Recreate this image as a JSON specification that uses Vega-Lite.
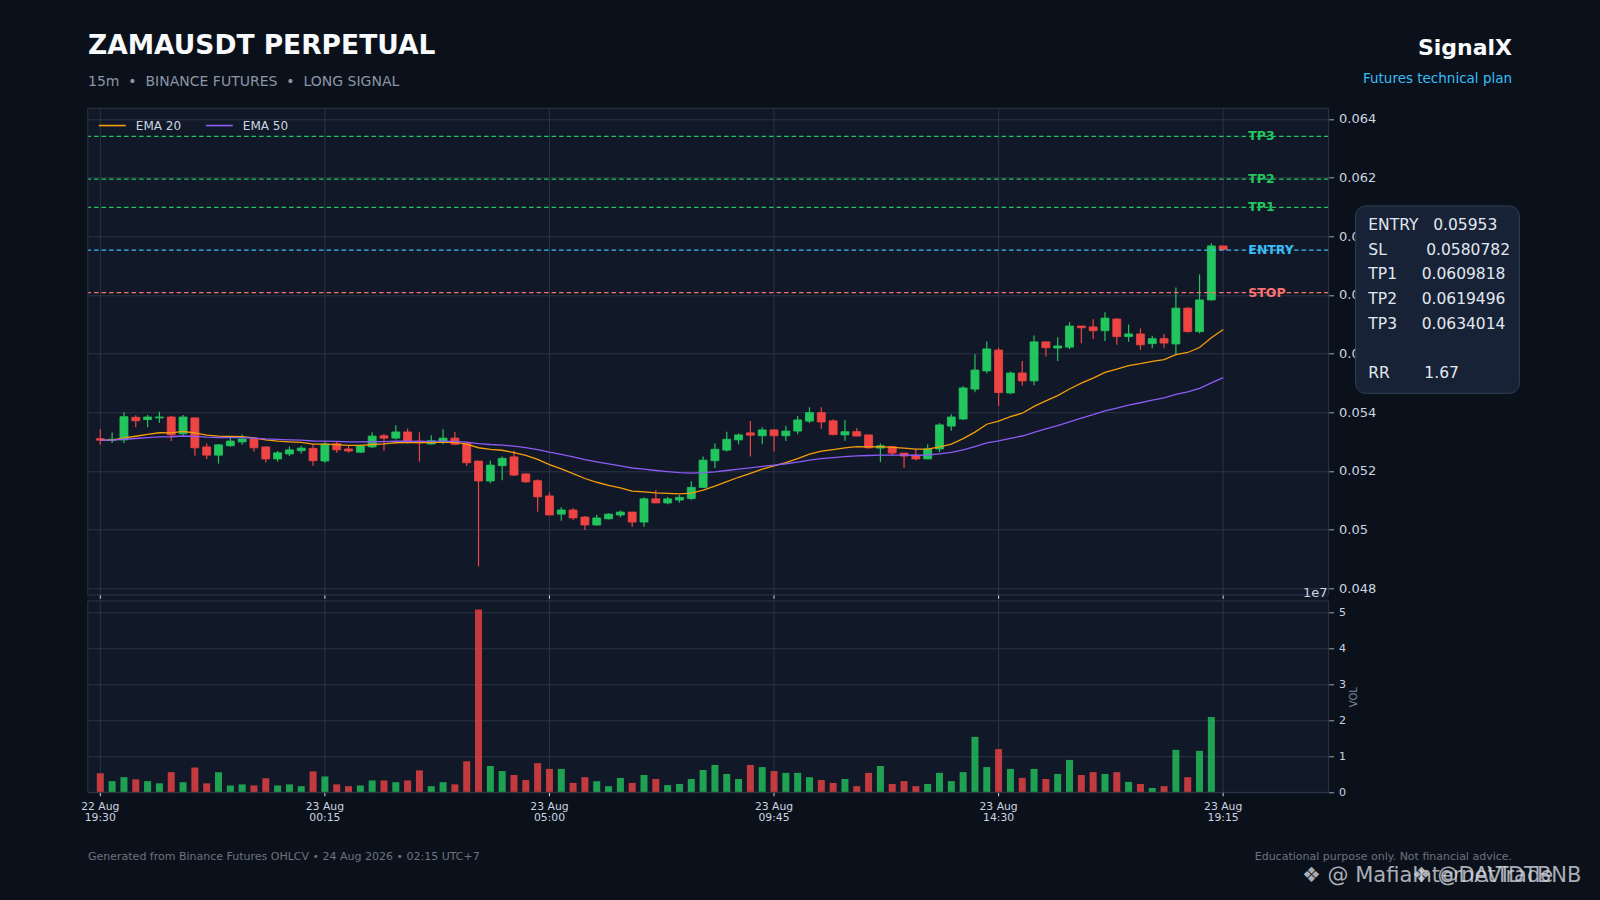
{
  "$schema": "https://vega.github.io/schema/vega-lite/v6.json",
  "width": 1240.8,
  "height": 684,
  "autosize": {"type": "none"},
  "padding": {"left": 87.8, "top": 108.3, "right": 271.4, "bottom": 107.7},
  "background": "#0b111b",
  "config": {
    "font": "DejaVu Sans",
    "view": {"fill": "#111827", "stroke": null}
  },
  "datasets": {
    "candles": [
      {"i":0,"o":0.05310,"h":0.05342,"l":0.05289,"c":0.05305,"v":0.53,"EMA 20":0.053050,"EMA 50":0.053050},
      {"i":1,"o":0.05305,"h":0.05331,"l":0.05295,"c":0.05308,"v":0.31,"EMA 20":0.053053,"EMA 50":0.053051},
      {"i":2,"o":0.05306,"h":0.05400,"l":0.05295,"c":0.05385,"v":0.42,"EMA 20":0.053129,"EMA 50":0.053082},
      {"i":3,"o":0.05383,"h":0.05390,"l":0.05349,"c":0.05371,"v":0.36,"EMA 20":0.053184,"EMA 50":0.053107},
      {"i":4,"o":0.05375,"h":0.05391,"l":0.05349,"c":0.05384,"v":0.31,"EMA 20":0.053247,"EMA 50":0.053136},
      {"i":5,"o":0.05381,"h":0.05402,"l":0.05364,"c":0.05384,"v":0.25,"EMA 20":0.053303,"EMA 50":0.053164},
      {"i":6,"o":0.05384,"h":0.05388,"l":0.05302,"c":0.05323,"v":0.56,"EMA 20":0.053296,"EMA 50":0.053166},
      {"i":7,"o":0.05327,"h":0.05391,"l":0.05321,"c":0.05384,"v":0.28,"EMA 20":0.053348,"EMA 50":0.053192},
      {"i":8,"o":0.05381,"h":0.05381,"l":0.05252,"c":0.05279,"v":0.69,"EMA 20":0.053295,"EMA 50":0.053177},
      {"i":9,"o":0.05282,"h":0.05294,"l":0.05241,"c":0.05254,"v":0.25,"EMA 20":0.053223,"EMA 50":0.053152},
      {"i":10,"o":0.05254,"h":0.05292,"l":0.05225,"c":0.05289,"v":0.56,"EMA 20":0.053191,"EMA 50":0.053141},
      {"i":11,"o":0.05286,"h":0.05313,"l":0.05283,"c":0.05302,"v":0.19,"EMA 20":0.053175,"EMA 50":0.053137},
      {"i":12,"o":0.05299,"h":0.05324,"l":0.05289,"c":0.05309,"v":0.22,"EMA 20":0.053167,"EMA 50":0.053135},
      {"i":13,"o":0.05309,"h":0.05309,"l":0.05266,"c":0.05279,"v":0.19,"EMA 20":0.053131,"EMA 50":0.053121},
      {"i":14,"o":0.05282,"h":0.05284,"l":0.05229,"c":0.05241,"v":0.39,"EMA 20":0.053062,"EMA 50":0.053093},
      {"i":15,"o":0.05241,"h":0.05268,"l":0.05232,"c":0.05262,"v":0.19,"EMA 20":0.053020,"EMA 50":0.053075},
      {"i":16,"o":0.05258,"h":0.05283,"l":0.05251,"c":0.05272,"v":0.22,"EMA 20":0.052992,"EMA 50":0.053061},
      {"i":17,"o":0.05269,"h":0.05285,"l":0.05260,"c":0.05278,"v":0.17,"EMA 20":0.052972,"EMA 50":0.053050},
      {"i":18,"o":0.05277,"h":0.05289,"l":0.05218,"c":0.05235,"v":0.58,"EMA 20":0.052912,"EMA 50":0.053022},
      {"i":19,"o":0.05234,"h":0.05300,"l":0.05228,"c":0.05292,"v":0.44,"EMA 20":0.052913,"EMA 50":0.053018},
      {"i":20,"o":0.05293,"h":0.05300,"l":0.05262,"c":0.05272,"v":0.22,"EMA 20":0.052895,"EMA 50":0.053007},
      {"i":21,"o":0.05275,"h":0.05285,"l":0.05262,"c":0.05268,"v":0.17,"EMA 20":0.052874,"EMA 50":0.052994},
      {"i":22,"o":0.05264,"h":0.05289,"l":0.05261,"c":0.05286,"v":0.19,"EMA 20":0.052873,"EMA 50":0.052989},
      {"i":23,"o":0.05282,"h":0.05332,"l":0.05278,"c":0.05319,"v":0.33,"EMA 20":0.052903,"EMA 50":0.052996},
      {"i":24,"o":0.05320,"h":0.05326,"l":0.05269,"c":0.05312,"v":0.33,"EMA 20":0.052924,"EMA 50":0.053001},
      {"i":25,"o":0.05312,"h":0.05356,"l":0.05307,"c":0.05333,"v":0.28,"EMA 20":0.052962,"EMA 50":0.053014},
      {"i":26,"o":0.05333,"h":0.05345,"l":0.05294,"c":0.05299,"v":0.33,"EMA 20":0.052965,"EMA 50":0.053013},
      {"i":27,"o":0.05302,"h":0.05332,"l":0.05232,"c":0.05296,"v":0.61,"EMA 20":0.052965,"EMA 50":0.053011},
      {"i":28,"o":0.05292,"h":0.05322,"l":0.05290,"c":0.05303,"v":0.17,"EMA 20":0.052971,"EMA 50":0.053012},
      {"i":29,"o":0.05299,"h":0.05342,"l":0.05291,"c":0.05312,"v":0.28,"EMA 20":0.052985,"EMA 50":0.053016},
      {"i":30,"o":0.05312,"h":0.05333,"l":0.05288,"c":0.05291,"v":0.22,"EMA 20":0.052978,"EMA 50":0.053012},
      {"i":31,"o":0.05294,"h":0.05297,"l":0.05217,"c":0.05228,"v":0.86,"EMA 20":0.052912,"EMA 50":0.052983},
      {"i":32,"o":0.05234,"h":0.05234,"l":0.04875,"c":0.05166,"v":5.08,"EMA 20":0.052792,"EMA 50":0.052931},
      {"i":33,"o":0.05166,"h":0.05236,"l":0.05158,"c":0.05220,"v":0.73,"EMA 20":0.052736,"EMA 50":0.052903},
      {"i":34,"o":0.05218,"h":0.05249,"l":0.05168,"c":0.05243,"v":0.59,"EMA 20":0.052707,"EMA 50":0.052884},
      {"i":35,"o":0.05248,"h":0.05269,"l":0.05183,"c":0.05186,"v":0.48,"EMA 20":0.052626,"EMA 50":0.052844},
      {"i":36,"o":0.05190,"h":0.05192,"l":0.05159,"c":0.05163,"v":0.34,"EMA 20":0.052531,"EMA 50":0.052796},
      {"i":37,"o":0.05167,"h":0.05172,"l":0.05061,"c":0.05112,"v":0.81,"EMA 20":0.052397,"EMA 50":0.052731},
      {"i":38,"o":0.05115,"h":0.05127,"l":0.05050,"c":0.05050,"v":0.65,"EMA 20":0.052216,"EMA 50":0.052643},
      {"i":39,"o":0.05053,"h":0.05076,"l":0.05030,"c":0.05067,"v":0.65,"EMA 20":0.052069,"EMA 50":0.052566},
      {"i":40,"o":0.05067,"h":0.05073,"l":0.05033,"c":0.05040,"v":0.26,"EMA 20":0.051910,"EMA 50":0.052481},
      {"i":41,"o":0.05043,"h":0.05047,"l":0.04999,"c":0.05016,"v":0.42,"EMA 20":0.051744,"EMA 50":0.052390},
      {"i":42,"o":0.05016,"h":0.05051,"l":0.05013,"c":0.05040,"v":0.31,"EMA 20":0.051616,"EMA 50":0.052312},
      {"i":43,"o":0.05037,"h":0.05056,"l":0.05035,"c":0.05053,"v":0.17,"EMA 20":0.051512,"EMA 50":0.052242},
      {"i":44,"o":0.05050,"h":0.05065,"l":0.05042,"c":0.05060,"v":0.40,"EMA 20":0.051425,"EMA 50":0.052177},
      {"i":45,"o":0.05060,"h":0.05060,"l":0.05010,"c":0.05026,"v":0.26,"EMA 20":0.051315,"EMA 50":0.052102},
      {"i":46,"o":0.05026,"h":0.05110,"l":0.05010,"c":0.05105,"v":0.48,"EMA 20":0.051289,"EMA 50":0.052061},
      {"i":47,"o":0.05105,"h":0.05135,"l":0.05091,"c":0.05091,"v":0.37,"EMA 20":0.051253,"EMA 50":0.052016},
      {"i":48,"o":0.05091,"h":0.05111,"l":0.05087,"c":0.05105,"v":0.20,"EMA 20":0.051234,"EMA 50":0.051978},
      {"i":49,"o":0.05101,"h":0.05118,"l":0.05092,"c":0.05110,"v":0.23,"EMA 20":0.051221,"EMA 50":0.051943},
      {"i":50,"o":0.05106,"h":0.05165,"l":0.05101,"c":0.05144,"v":0.37,"EMA 20":0.051242,"EMA 50":0.051924},
      {"i":51,"o":0.05144,"h":0.05249,"l":0.05144,"c":0.05237,"v":0.62,"EMA 20":0.051349,"EMA 50":0.051941},
      {"i":52,"o":0.05235,"h":0.05294,"l":0.05210,"c":0.05274,"v":0.76,"EMA 20":0.051482,"EMA 50":0.051973},
      {"i":53,"o":0.05271,"h":0.05334,"l":0.05266,"c":0.05308,"v":0.51,"EMA 20":0.051634,"EMA 50":0.052016},
      {"i":54,"o":0.05306,"h":0.05328,"l":0.05291,"c":0.05323,"v":0.37,"EMA 20":0.051786,"EMA 50":0.052064},
      {"i":55,"o":0.05330,"h":0.05370,"l":0.05249,"c":0.05322,"v":0.76,"EMA 20":0.051922,"EMA 50":0.052109},
      {"i":56,"o":0.05320,"h":0.05349,"l":0.05291,"c":0.05340,"v":0.70,"EMA 20":0.052063,"EMA 50":0.052160},
      {"i":57,"o":0.05340,"h":0.05342,"l":0.05266,"c":0.05320,"v":0.59,"EMA 20":0.052171,"EMA 50":0.052200},
      {"i":58,"o":0.05320,"h":0.05354,"l":0.05302,"c":0.05336,"v":0.54,"EMA 20":0.052284,"EMA 50":0.052246},
      {"i":59,"o":0.05336,"h":0.05387,"l":0.05325,"c":0.05374,"v":0.54,"EMA 20":0.052423,"EMA 50":0.052304},
      {"i":60,"o":0.05370,"h":0.05417,"l":0.05363,"c":0.05399,"v":0.42,"EMA 20":0.052572,"EMA 50":0.052370},
      {"i":61,"o":0.05399,"h":0.05417,"l":0.05344,"c":0.05367,"v":0.34,"EMA 20":0.052677,"EMA 50":0.052421},
      {"i":62,"o":0.05371,"h":0.05376,"l":0.05322,"c":0.05324,"v":0.26,"EMA 20":0.052730,"EMA 50":0.052453},
      {"i":63,"o":0.05323,"h":0.05373,"l":0.05303,"c":0.05334,"v":0.37,"EMA 20":0.052788,"EMA 50":0.052488},
      {"i":64,"o":0.05334,"h":0.05346,"l":0.05319,"c":0.05319,"v":0.17,"EMA 20":0.052827,"EMA 50":0.052516},
      {"i":65,"o":0.05323,"h":0.05323,"l":0.05276,"c":0.05279,"v":0.54,"EMA 20":0.052823,"EMA 50":0.052527},
      {"i":66,"o":0.05278,"h":0.05294,"l":0.05230,"c":0.05286,"v":0.73,"EMA 20":0.052827,"EMA 50":0.052540},
      {"i":67,"o":0.05283,"h":0.05285,"l":0.05253,"c":0.05261,"v":0.23,"EMA 20":0.052806,"EMA 50":0.052542},
      {"i":68,"o":0.05261,"h":0.05261,"l":0.05211,"c":0.05251,"v":0.31,"EMA 20":0.052778,"EMA 50":0.052541},
      {"i":69,"o":0.05254,"h":0.05275,"l":0.05237,"c":0.05241,"v":0.17,"EMA 20":0.052743,"EMA 50":0.052536},
      {"i":70,"o":0.05241,"h":0.05291,"l":0.05241,"c":0.05275,"v":0.23,"EMA 20":0.052743,"EMA 50":0.052544},
      {"i":71,"o":0.05275,"h":0.05363,"l":0.05264,"c":0.05357,"v":0.54,"EMA 20":0.052822,"EMA 50":0.052585},
      {"i":72,"o":0.05353,"h":0.05393,"l":0.05337,"c":0.05384,"v":0.31,"EMA 20":0.052919,"EMA 50":0.052634},
      {"i":73,"o":0.05377,"h":0.05490,"l":0.05374,"c":0.05483,"v":0.56,"EMA 20":0.053101,"EMA 50":0.052720},
      {"i":74,"o":0.05479,"h":0.05598,"l":0.05468,"c":0.05544,"v":1.54,"EMA 20":0.053323,"EMA 50":0.052827},
      {"i":75,"o":0.05541,"h":0.05641,"l":0.05533,"c":0.05616,"v":0.70,"EMA 20":0.053593,"EMA 50":0.052957},
      {"i":76,"o":0.05612,"h":0.05620,"l":0.05422,"c":0.05467,"v":1.20,"EMA 20":0.053696,"EMA 50":0.053024},
      {"i":77,"o":0.05466,"h":0.05539,"l":0.05462,"c":0.05534,"v":0.65,"EMA 20":0.053852,"EMA 50":0.053115},
      {"i":78,"o":0.05534,"h":0.05575,"l":0.05491,"c":0.05507,"v":0.40,"EMA 20":0.053968,"EMA 50":0.053192},
      {"i":79,"o":0.05507,"h":0.05662,"l":0.05492,"c":0.05640,"v":0.65,"EMA 20":0.054200,"EMA 50":0.053318},
      {"i":80,"o":0.05640,"h":0.05640,"l":0.05590,"c":0.05620,"v":0.37,"EMA 20":0.054390,"EMA 50":0.053431},
      {"i":81,"o":0.05619,"h":0.05656,"l":0.05575,"c":0.05626,"v":0.51,"EMA 20":0.054568,"EMA 50":0.053542},
      {"i":82,"o":0.05622,"h":0.05707,"l":0.05615,"c":0.05694,"v":0.90,"EMA 20":0.054794,"EMA 50":0.053675},
      {"i":83,"o":0.05694,"h":0.05694,"l":0.05635,"c":0.05688,"v":0.48,"EMA 20":0.054993,"EMA 50":0.053801},
      {"i":84,"o":0.05691,"h":0.05717,"l":0.05650,"c":0.05678,"v":0.56,"EMA 20":0.055163,"EMA 50":0.053917},
      {"i":85,"o":0.05678,"h":0.05741,"l":0.05643,"c":0.05721,"v":0.51,"EMA 20":0.055358,"EMA 50":0.054046},
      {"i":86,"o":0.05718,"h":0.05720,"l":0.05630,"c":0.05658,"v":0.56,"EMA 20":0.055474,"EMA 50":0.054146},
      {"i":87,"o":0.05658,"h":0.05699,"l":0.05640,"c":0.05667,"v":0.29,"EMA 20":0.055588,"EMA 50":0.054245},
      {"i":88,"o":0.05667,"h":0.05686,"l":0.05613,"c":0.05630,"v":0.23,"EMA 20":0.055656,"EMA 50":0.054325},
      {"i":89,"o":0.05634,"h":0.05661,"l":0.05618,"c":0.05651,"v":0.12,"EMA 20":0.055737,"EMA 50":0.054411},
      {"i":90,"o":0.05651,"h":0.05667,"l":0.05620,"c":0.05636,"v":0.17,"EMA 20":0.055796,"EMA 50":0.054488},
      {"i":91,"o":0.05633,"h":0.05825,"l":0.05599,"c":0.05755,"v":1.18,"EMA 20":0.055963,"EMA 50":0.054608},
      {"i":92,"o":0.05755,"h":0.05759,"l":0.05671,"c":0.05675,"v":0.42,"EMA 20":0.056038,"EMA 50":0.054692},
      {"i":93,"o":0.05675,"h":0.05870,"l":0.05669,"c":0.05783,"v":1.15,"EMA 20":0.056209,"EMA 50":0.054815},
      {"i":94,"o":0.05783,"h":0.05976,"l":0.05780,"c":0.05967,"v":2.09,"EMA 20":0.056538,"EMA 50":0.055005},
      {"i":95,"o":0.05967,"h":0.05967,"l":0.05954,"c":0.05954,"v":0.00,"EMA 20":0.056824,"EMA 50":0.055183}
    ],
    "levels": [
      {"level": "TP3", "price": 0.0634014},
      {"level": "TP2", "price": 0.0619496},
      {"level": "TP1", "price": 0.0609818},
      {"level": "ENTRY", "price": 0.05953},
      {"level": "STOP", "price": 0.0580782}
    ],
    "info": [
      {"line": "ENTRY\u00a0\u00a0\u00a00.05953", "row": 0},
      {"line": "SL\u00a0\u00a0\u00a0\u00a0\u00a0\u00a0\u00a0\u00a00.0580782", "row": 1},
      {"line": "TP1\u00a0\u00a0\u00a0\u00a0\u00a00.0609818", "row": 2},
      {"line": "TP2\u00a0\u00a0\u00a0\u00a0\u00a00.0619496", "row": 3},
      {"line": "TP3\u00a0\u00a0\u00a0\u00a0\u00a00.0634014", "row": 4},
      {"line": "RR\u00a0\u00a0\u00a0\u00a0\u00a0\u00a0\u00a01.67", "row": 6}
    ],
    "ticks": [
      {"i": 0, "label": ["22 Aug", "19:30"]},
      {"i": 19, "label": ["23 Aug", "00:15"]},
      {"i": 38, "label": ["23 Aug", "05:00"]},
      {"i": 57, "label": ["23 Aug", "09:45"]},
      {"i": 76, "label": ["23 Aug", "14:30"]},
      {"i": 95, "label": ["23 Aug", "19:15"]}
    ]
  },
  "resolve": {"scale": {"y": "independent"}},
  "layer": [
    {
      "data": {"name": "ticks"},
      "mark": {"type": "rule", "strokeWidth": 1, "color": "#2a3546"},
      "encoding": {
        "x": {"field": "i", "type": "quantitative", "scale": {"domain": [-1.058, 103.92], "nice": false, "zero": false, "padding": 0}, "axis": null},
        "y": {"datum": 0.047777, "type": "quantitative", "scale": {"domain": [0.047777, 0.06436], "range": [486.6, 0], "nice": false, "zero": false}, "axis": null},
        "y2": {"datum": 0.06436}
      }
    },
    {
      "data": {"name": "ticks"},
      "mark": {"type": "rule", "strokeWidth": 1, "color": "#cbd5e1"},
      "encoding": {
        "x": {"field": "i", "type": "quantitative", "scale": {"domain": [-1.058, 103.92], "nice": false, "zero": false, "padding": 0}, "axis": null},
        "y": {"datum": 0.047777, "type": "quantitative", "scale": {"domain": [0.047777, 0.06436], "range": [486.6, 0], "nice": false, "zero": false}, "axis": null},
        "y2": {"datum": 0.047641}
      }
    },
    {
      "data": {"name": "ticks"},
      "mark": {"type": "rule", "strokeWidth": 1, "color": "#2a3546"},
      "encoding": {
        "x": {"field": "i", "type": "quantitative", "scale": {"domain": [-1.058, 103.92], "nice": false, "zero": false, "padding": 0}, "axis": null},
        "y": {"datum": 0, "type": "quantitative", "scale": {"domain": [0, 5.314], "range": [684, 492.7], "nice": false, "zero": false}, "axis": null},
        "y2": {"datum": 5.314}
      }
    },
    {
      "data": {"name": "ticks"},
      "mark": {"type": "rule", "strokeWidth": 1, "color": "#cbd5e1"},
      "encoding": {
        "x": {"field": "i", "type": "quantitative", "scale": {"domain": [-1.058, 103.92], "nice": false, "zero": false, "padding": 0}, "axis": null},
        "y": {"datum": 0, "type": "quantitative", "scale": {"domain": [0, 5.314], "range": [684, 492.7], "nice": false, "zero": false}, "axis": null},
        "y2": {"datum": -0.111}
      }
    },
    {
      "data": {"name": "candles"},
      "mark": {"type": "rule", "strokeWidth": 1.2},
      "encoding": {
        "x": {"field": "i", "type": "quantitative", "scale": {"domain": [-1.058, 103.92], "nice": false, "zero": false, "padding": 0}, "axis": null},
        "y": {
          "field": "l", "type": "quantitative",
          "scale": {"domain": [0.047777, 0.06436], "range": [486.6, 0], "nice": false, "zero": false},
          "axis": {
            "orient": "right", "title": null, "values": [0.048, 0.05, 0.052, 0.054, 0.056, 0.058, 0.06, 0.062, 0.064],
            "format": ".3~f", "domain": false, "grid": true, "gridColor": "#2a3546", "tickColor": "#9aa5b4", "tickSize": 5,
            "labelColor": "#cbd5e1", "labelFontSize": 13, "labelPadding": 5
          }
        },
        "y2": {"field": "h"},
        "color": {"condition": {"test": "datum.c >= datum.o", "value": "#22c55e"}, "value": "#ef4444"}
      }
    },
    {
      "data": {"name": "candles"},
      "mark": {"type": "bar", "size": 7, "opacity": 0.8},
      "encoding": {
        "x": {"field": "i", "type": "quantitative", "scale": {"domain": [-1.058, 103.92], "nice": false, "zero": false, "padding": 0}, "axis": null},
        "y": {
          "field": "v", "type": "quantitative",
          "scale": {"domain": [0, 5.314], "range": [684, 492.7], "nice": false, "zero": false},
          "axis": {
            "orient": "right", "title": "VOL", "titleColor": "#7c8797", "titleFontSize": 10, "titleFontWeight": "normal",
            "titleAngle": 270, "titlePadding": 13, "values": [0, 1, 2, 3, 4, 5], "domain": false, "grid": true,
            "gridColor": "#2a3546", "tickColor": "#9aa5b4", "tickSize": 5, "labelColor": "#cbd5e1", "labelFontSize": 11,
            "labelPadding": 5
          }
        },
        "color": {"condition": {"test": "datum.c >= datum.o", "value": "#22c55e"}, "value": "#ef4444"}
      }
    },
    {
      "data": {"name": "ticks"},
      "mark": {"type": "text", "align": "center", "baseline": "alphabetic", "fontSize": 10.8, "lineHeight": 10.5, "color": "#cbd5e1"},
      "encoding": {
        "x": {"field": "i", "type": "quantitative", "scale": {"domain": [-1.058, 103.92], "nice": false, "zero": false, "padding": 0}, "axis": null},
        "y": {"datum": -0.492, "type": "quantitative", "scale": {"domain": [0, 5.314], "range": [684, 492.7], "nice": false, "zero": false}, "axis": null},
        "text": {"field": "label"}
      }
    },
    {
      "data": {"name": "candles"},
      "mark": {"type": "bar", "size": 8, "strokeWidth": 0.8},
      "encoding": {
        "x": {"field": "i", "type": "quantitative", "scale": {"domain": [-1.058, 103.92], "nice": false, "zero": false, "padding": 0}, "axis": null},
        "y": {"field": "o", "type": "quantitative", "scale": {"domain": [0.047777, 0.06436], "range": [486.6, 0], "nice": false, "zero": false}, "axis": null},
        "y2": {"field": "c"},
        "color": {"condition": {"test": "datum.c >= datum.o", "value": "#22c55e"}, "value": "#ef4444"},
        "stroke": {"condition": {"test": "datum.c >= datum.o", "value": "#22c55e"}, "value": "#ef4444"}
      }
    },
    {
      "data": {"name": "candles"},
      "transform": [{"fold": ["EMA 20", "EMA 50"], "as": ["series", "ema"]}],
      "mark": {"type": "line", "strokeWidth": 1.3},
      "encoding": {
        "x": {"field": "i", "type": "quantitative", "scale": {"domain": [-1.058, 103.92], "nice": false, "zero": false, "padding": 0}, "axis": null},
        "y": {"field": "ema", "type": "quantitative", "scale": {"domain": [0.047777, 0.06436], "range": [486.6, 0], "nice": false, "zero": false}, "axis": null},
        "color": {
          "field": "series", "type": "nominal",
          "scale": {"domain": ["EMA 20", "EMA 50"], "range": ["#f59e0b", "#8b5cf6"]},
          "legend": {
            "orient": "none", "legendX": 10, "legendY": 2.5, "direction": "horizontal", "title": null, "padding": 0,
            "labelColor": "#cbd5e1", "labelFontSize": 12, "symbolType": "stroke", "symbolSize": 729,
            "symbolStrokeWidth": 1.6, "columnPadding": 20, "labelOffset": 9
          }
        }
      }
    },
    {
      "data": {"name": "levels"},
      "mark": {"type": "rule", "strokeDash": [4.5, 3], "strokeWidth": 1.3},
      "encoding": {
        "y": {"field": "price", "type": "quantitative", "scale": {"domain": [0.047777, 0.06436], "range": [486.6, 0], "nice": false, "zero": false}, "axis": null},
        "color": {"condition": [{"test": "datum.level == 'ENTRY'", "value": "#38bdf8"}, {"test": "datum.level == 'STOP'", "value": "#f87171"}], "value": "#22c55e"}
      }
    },
    {
      "data": {"name": "levels"},
      "mark": {"type": "text", "align": "left", "baseline": "middle", "fontSize": 12.5, "fontWeight": "bold"},
      "encoding": {
        "x": {"datum": 97.13, "type": "quantitative", "scale": {"domain": [-1.058, 103.92], "nice": false, "zero": false, "padding": 0}, "axis": null},
        "y": {"field": "price", "type": "quantitative", "scale": {"domain": [0.047777, 0.06436], "range": [486.6, 0], "nice": false, "zero": false}, "axis": null},
        "text": {"field": "level"},
        "color": {"condition": [{"test": "datum.level == 'ENTRY'", "value": "#38bdf8"}, {"test": "datum.level == 'STOP'", "value": "#f87171"}], "value": "#22c55e"}
      }
    },
    {
      "data": {"values": [{}]},
      "mark": {"type": "rect", "cornerRadius": 10, "fill": "#172236", "stroke": "#334155", "strokeWidth": 1},
      "encoding": {
        "x": {"datum": 106.21, "type": "quantitative", "scale": {"domain": [-1.058, 103.92], "nice": false, "zero": false, "padding": 0}, "axis": null},
        "x2": {"datum": 120.05},
        "y": {"datum": 0.054647, "type": "quantitative", "scale": {"domain": [0.047777, 0.06436], "range": [486.6, 0], "nice": false, "zero": false}, "axis": null},
        "y2": {"datum": 0.06103}
      }
    },
    {
      "data": {"name": "info"},
      "mark": {"type": "text", "align": "left", "baseline": "alphabetic", "fontSize": 15.5, "color": "#e2e8f0"},
      "encoding": {
        "x": {"datum": 107.28, "type": "quantitative", "scale": {"domain": [-1.058, 103.92], "nice": false, "zero": false, "padding": 0}, "axis": null},
        "y": {"field": "row", "type": "quantitative", "scale": {"domain": [-4.927, 14.773], "range": [0, 486.6], "nice": false, "zero": false}, "axis": null},
        "text": {"field": "line"}
      }
    },
    {
      "data": {"values": [{}]},
      "mark": {"type": "text", "align": "left", "baseline": "alphabetic", "fontSize": 26.5, "fontWeight": "bold", "color": "#f8fafc"},
      "encoding": {
        "x": {"datum": -1.041, "type": "quantitative", "scale": {"domain": [-1.058, 103.92], "nice": false, "zero": false, "padding": 0}, "axis": null},
        "y": {"datum": 0.06621, "type": "quantitative", "scale": {"domain": [0.047777, 0.06436], "range": [486.6, 0], "nice": false, "zero": false}, "axis": null},
        "text": {"value": "ZAMAUSDT PERPETUAL"}
      }
    },
    {
      "data": {"values": [{}]},
      "mark": {"type": "text", "align": "left", "baseline": "alphabetic", "fontSize": 14, "color": "#8b95a5"},
      "encoding": {
        "x": {"datum": -1.041, "type": "quantitative", "scale": {"domain": [-1.058, 103.92], "nice": false, "zero": false, "padding": 0}, "axis": null},
        "y": {"datum": 0.06512, "type": "quantitative", "scale": {"domain": [0.047777, 0.06436], "range": [486.6, 0], "nice": false, "zero": false}, "axis": null},
        "text": {"value": "15m\u00a0\u00a0•\u00a0\u00a0BINANCE FUTURES\u00a0\u00a0•\u00a0\u00a0LONG SIGNAL"}
      }
    },
    {
      "data": {"values": [{}]},
      "mark": {"type": "text", "align": "right", "baseline": "alphabetic", "fontSize": 22, "fontWeight": "bold", "color": "#f8fafc"},
      "encoding": {
        "x": {"datum": 119.44, "type": "quantitative", "scale": {"domain": [-1.058, 103.92], "nice": false, "zero": false, "padding": 0}, "axis": null},
        "y": {"datum": 0.06616, "type": "quantitative", "scale": {"domain": [0.047777, 0.06436], "range": [486.6, 0], "nice": false, "zero": false}, "axis": null},
        "text": {"value": "SignalX"}
      }
    },
    {
      "data": {"values": [{}]},
      "mark": {"type": "text", "align": "right", "baseline": "alphabetic", "fontSize": 13.5, "color": "#38bdf8"},
      "encoding": {
        "x": {"datum": 119.44, "type": "quantitative", "scale": {"domain": [-1.058, 103.92], "nice": false, "zero": false, "padding": 0}, "axis": null},
        "y": {"datum": 0.06522, "type": "quantitative", "scale": {"domain": [0.047777, 0.06436], "range": [486.6, 0], "nice": false, "zero": false}, "axis": null},
        "text": {"value": "Futures technical plan"}
      }
    },
    {
      "data": {"values": [{}]},
      "mark": {"type": "rect", "filled": false, "stroke": "#2b3547", "strokeWidth": 1},
      "encoding": {
        "x": {"datum": -1.058, "type": "quantitative", "scale": {"domain": [-1.058, 103.92], "nice": false, "zero": false, "padding": 0}, "axis": null},
        "x2": {"datum": 103.92},
        "y": {"datum": 0.047777, "type": "quantitative", "scale": {"domain": [0.047777, 0.06436], "range": [486.6, 0], "nice": false, "zero": false}, "axis": null},
        "y2": {"datum": 0.06436}
      }
    },
    {
      "data": {"values": [{}]},
      "mark": {"type": "rect", "filled": false, "stroke": "#2b3547", "strokeWidth": 1},
      "encoding": {
        "x": {"datum": -1.058, "type": "quantitative", "scale": {"domain": [-1.058, 103.92], "nice": false, "zero": false, "padding": 0}, "axis": null},
        "x2": {"datum": 103.92},
        "y": {"datum": 0, "type": "quantitative", "scale": {"domain": [0, 5.314], "range": [684, 492.7], "nice": false, "zero": false}, "axis": null},
        "y2": {"datum": 5.314}
      }
    },
    {
      "data": {"values": [{}]},
      "mark": {"type": "text", "align": "right", "baseline": "alphabetic", "fontSize": 13, "color": "#cbd5e1"},
      "encoding": {
        "x": {"datum": 103.83, "type": "quantitative", "scale": {"domain": [-1.058, 103.92], "nice": false, "zero": false, "padding": 0}, "axis": null},
        "y": {"datum": 5.439, "type": "quantitative", "scale": {"domain": [0, 5.314], "range": [684, 492.7], "nice": false, "zero": false}, "axis": null},
        "text": {"value": "1e7"}
      }
    },
    {
      "data": {"values": [{}]},
      "mark": {"type": "text", "align": "left", "baseline": "alphabetic", "fontSize": 11, "color": "#6b7280"},
      "encoding": {
        "x": {"datum": -1.041, "type": "quantitative", "scale": {"domain": [-1.058, 103.92], "nice": false, "zero": false, "padding": 0}, "axis": null},
        "y": {"datum": -1.881, "type": "quantitative", "scale": {"domain": [0, 5.314], "range": [684, 492.7], "nice": false, "zero": false}, "axis": null},
        "text": {"value": "Generated from Binance Futures OHLCV • 24 Aug 2026 • 02:15 UTC+7"}
      }
    },
    {
      "data": {"values": [{}]},
      "mark": {"type": "text", "align": "right", "baseline": "alphabetic", "fontSize": 11, "color": "#6b7280"},
      "encoding": {
        "x": {"datum": 119.44, "type": "quantitative", "scale": {"domain": [-1.058, 103.92], "nice": false, "zero": false, "padding": 0}, "axis": null},
        "y": {"datum": -1.881, "type": "quantitative", "scale": {"domain": [0, 5.314], "range": [684, 492.7], "nice": false, "zero": false}, "axis": null},
        "text": {"value": "Educational purpose only. Not financial advice."}
      }
    },
    {
      "data": {"values": [{}]},
      "mark": {"type": "text", "align": "left", "baseline": "alphabetic", "fontSize": 21, "color": "#d1d5db", "opacity": 0.8},
      "encoding": {
        "x": {"datum": 101.67, "type": "quantitative", "scale": {"domain": [-1.058, 103.92], "nice": false, "zero": false, "padding": 0}, "axis": null},
        "y": {"datum": -2.483, "type": "quantitative", "scale": {"domain": [0, 5.314], "range": [684, 492.7], "nice": false, "zero": false}, "axis": null},
        "text": {"value": "❖ @ MafiaInternetTrade"}
      }
    },
    {
      "data": {"values": [{}]},
      "mark": {"type": "text", "align": "left", "baseline": "alphabetic", "fontSize": 21, "color": "#d1d5db", "opacity": 0.8},
      "encoding": {
        "x": {"datum": 110.98, "type": "quantitative", "scale": {"domain": [-1.058, 103.92], "nice": false, "zero": false, "padding": 0}, "axis": null},
        "y": {"datum": -2.483, "type": "quantitative", "scale": {"domain": [0, 5.314], "range": [684, 492.7], "nice": false, "zero": false}, "axis": null},
        "text": {"value": "❖ @DAVIDTBNB"}
      }
    }
  ]
}
